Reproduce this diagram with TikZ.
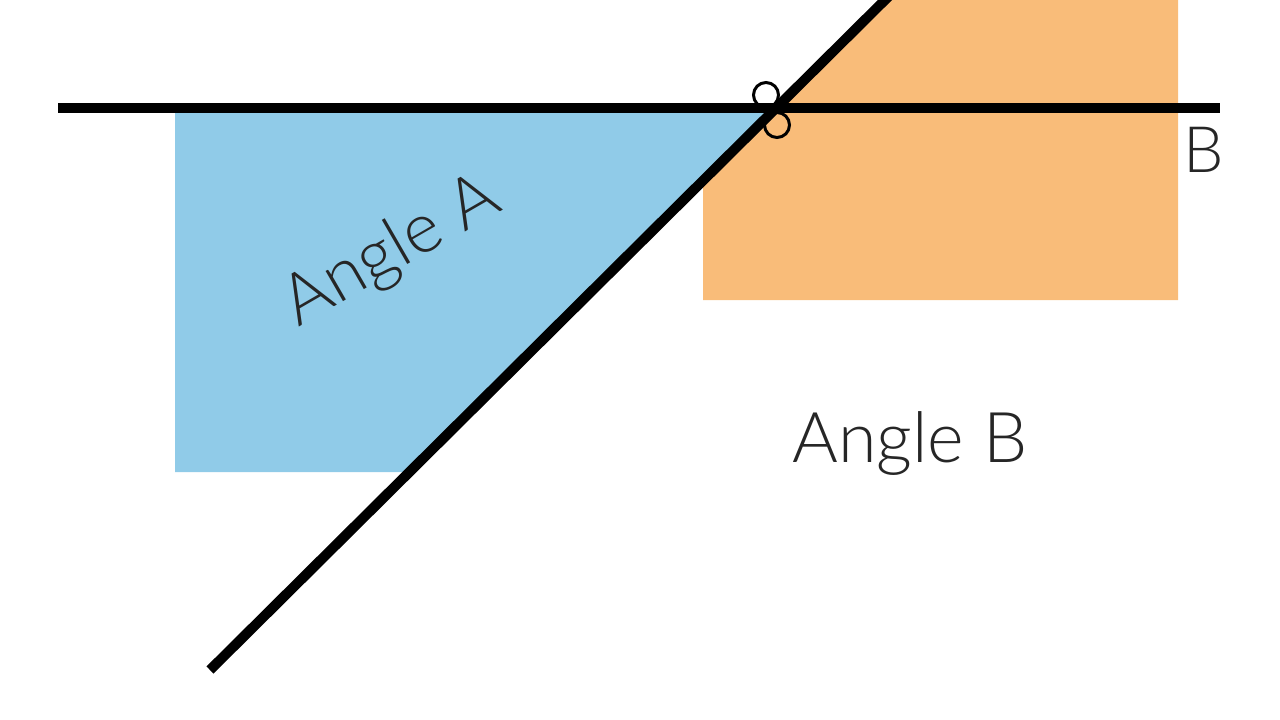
\documentclass[tikz,border=0pt]{standalone}
\usepackage{fontspec}
\newfontfamily\lbl{Lato Light}
\definecolor{areablue}{HTML}{90CBE8}
\definecolor{areaorange}{HTML}{F9BC79}
\tikzset{
  thickline/.style={line width=10pt, black},
  ring/.style={line width=3pt, black},
  lbltext/.style={font=\lbl\fontsize{70}{80}\selectfont, text=black!85, inner sep=0pt}
}
\begin{document}
\begin{tikzpicture}[x=1pt,y=-1pt]
\useasboundingbox (0,0) rectangle (1280,720);
\clip (0,0) rectangle (1280,720);
\coordinate (hL) at (58,108);
\coordinate (hR) at (1220,108);
\coordinate (dB) at (210,670);
\coordinate (dT) at (892,-7);
% blue region (angle A)
\fill[areablue] (175,108) -- (776.2,108) -- (409.5,472) -- (175,472) -- cycle;
% orange region
\fill[areaorange] (703,180.7) -- (885,0) -- (1178,0) -- (1178,300) -- (703,300) -- cycle;
% lines
\draw[thickline] (hL) -- (hR);
\draw[thickline] (dB) -- (dT);
% small circles at intersection
\draw[ring] (766,95) circle (12.5);
\draw[ring] (777,125) circle (12.5);
% labels
\node[lbltext, rotate=30] (angA) at (392,252) {Angle A};
\node[lbltext] (angB) at (910,444) {Angle B};
\node[lbltext, font=\lbl\fontsize{64}{70}\selectfont] (labB) at (1204,150) {B};
\end{tikzpicture}
\end{document}
